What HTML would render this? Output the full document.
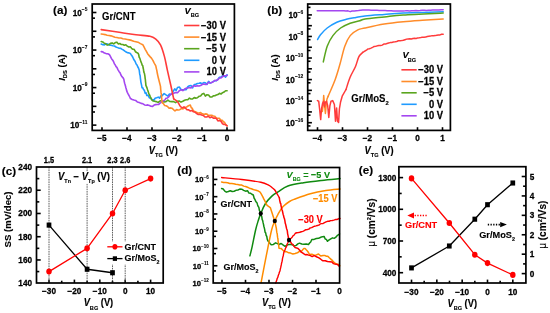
<!DOCTYPE html>
<html><head><meta charset="utf-8"><style>
html,body{margin:0;padding:0;background:#fff;}
svg{display:block;will-change:transform;}
text{font-family:"Liberation Sans",sans-serif;font-weight:bold;stroke-width:0.12px;}
.tk{stroke-width:0.28px;}
</style></head><body>
<svg width="550" height="313" viewBox="0 0 550 313">
<rect width="550" height="313" fill="#fff"/>
<line x1="92.2" y1="12.5" x2="96.4" y2="12.5" stroke="#000" stroke-width="1.6" />
<line x1="92.2" y1="18.15" x2="95" y2="18.15" stroke="#000" stroke-width="1.6" />
<line x1="92.2" y1="31.27" x2="96.4" y2="31.27" stroke="#000" stroke-width="1.6" />
<line x1="92.2" y1="36.92" x2="95" y2="36.92" stroke="#000" stroke-width="1.6" />
<line x1="92.2" y1="50.04" x2="96.4" y2="50.04" stroke="#000" stroke-width="1.6" />
<line x1="92.2" y1="55.69" x2="95" y2="55.69" stroke="#000" stroke-width="1.6" />
<line x1="92.2" y1="68.81" x2="96.4" y2="68.81" stroke="#000" stroke-width="1.6" />
<line x1="92.2" y1="74.46" x2="95" y2="74.46" stroke="#000" stroke-width="1.6" />
<line x1="92.2" y1="87.58" x2="96.4" y2="87.58" stroke="#000" stroke-width="1.6" />
<line x1="92.2" y1="93.23" x2="95" y2="93.23" stroke="#000" stroke-width="1.6" />
<line x1="92.2" y1="106.35" x2="96.4" y2="106.35" stroke="#000" stroke-width="1.6" />
<line x1="92.2" y1="112" x2="95" y2="112" stroke="#000" stroke-width="1.6" />
<line x1="92.2" y1="125.12" x2="96.4" y2="125.12" stroke="#000" stroke-width="1.6" />
<line x1="102" y1="130.4" x2="102" y2="127.2" stroke="#000" stroke-width="1.6" />
<text transform="translate(102,141.3) scale(1.0,1)" font-size="8.2" text-anchor="middle" fill="#000" stroke="#000" class="tk">−5</text>
<line x1="127" y1="130.4" x2="127" y2="127.2" stroke="#000" stroke-width="1.6" />
<text transform="translate(127,141.3) scale(1.0,1)" font-size="8.2" text-anchor="middle" fill="#000" stroke="#000" class="tk">−4</text>
<line x1="152" y1="130.4" x2="152" y2="127.2" stroke="#000" stroke-width="1.6" />
<text transform="translate(152,141.3) scale(1.0,1)" font-size="8.2" text-anchor="middle" fill="#000" stroke="#000" class="tk">−3</text>
<line x1="177" y1="130.4" x2="177" y2="127.2" stroke="#000" stroke-width="1.6" />
<text transform="translate(177,141.3) scale(1.0,1)" font-size="8.2" text-anchor="middle" fill="#000" stroke="#000" class="tk">−2</text>
<line x1="202" y1="130.4" x2="202" y2="127.2" stroke="#000" stroke-width="1.6" />
<text transform="translate(202,141.3) scale(1.0,1)" font-size="8.2" text-anchor="middle" fill="#000" stroke="#000" class="tk">−1</text>
<line x1="227" y1="130.4" x2="227" y2="127.2" stroke="#000" stroke-width="1.6" />
<text transform="translate(227,141.3) scale(1.0,1)" font-size="8.2" text-anchor="middle" fill="#000" stroke="#000" class="tk">0</text>
<text stroke="#000" transform="translate(87.4,15.6)" font-size="8.2" text-anchor="end" class="tk">10<tspan font-size="4.9" dy="-4.3" style="stroke-width:0.08px">−5</tspan></text>
<text stroke="#000" transform="translate(87.4,53.14)" font-size="8.2" text-anchor="end" class="tk">10<tspan font-size="4.9" dy="-4.3" style="stroke-width:0.08px">−7</tspan></text>
<text stroke="#000" transform="translate(87.4,90.68)" font-size="8.2" text-anchor="end" class="tk">10<tspan font-size="4.9" dy="-4.3" style="stroke-width:0.08px">−9</tspan></text>
<text stroke="#000" transform="translate(87.4,128.22)" font-size="8.2" text-anchor="end" class="tk">10<tspan font-size="4.9" dy="-4.3" style="stroke-width:0.08px">−11</tspan></text>
<path d="M101.2,44 L102.87,44.7 L104.53,44.84 L106.2,43.92 L107.87,44.1 L109.53,45.15 L111.2,45.18 L112.8,45.75 L114.4,45.97 L116,46.98 L117.6,47.63 L119.2,48.25 L120.8,48.39 L122.16,49.39 L123.51,50.02 L124.87,51.08 L126.23,52.08 L127.59,52.7 L128.94,52.88 L130.3,53.43 L131.14,54.66 L131.98,55.82 L132.81,57.25 L133.65,59.21 L134.49,60.47 L135.32,61.98 L136.16,64.03 L137,65.03 L137.73,66.74 L138.47,68.02 L139.2,70 L139.4,71.38 L139.6,73.17 L139.8,74.62 L140,75 L140.2,76.16 L140.4,78.32 L140.6,79.55 L140.88,82.08 L141.16,83.3 L141.44,84.58 L141.72,85.96 L142,87.62 L142.8,87.86 L143.6,89.71 L144.4,90.42 L145.2,93.18 L146,92.75 L146.8,95.54 L148.1,95.35 L149.4,97.87 L150.7,98.47 L152.1,99.56 L153.5,100.7 L155.1,98.3 L156.7,97.79 L158.3,97.13 L159.6,98.19 L160.9,95.85 L162.2,95.65 L164.1,93.54 L166,94.93 L167.9,96.07 L169.27,94.11 L170.64,94.67 L172.01,93.58 L173.39,90.98 L174.76,88.85 L176.13,90.54 L177.5,87.53 L179.28,87.08 L181.05,89.48 L182.82,89.82 L184.6,89.74 L186.2,89.68 L187.8,86.65 L189.4,85.78 L191,85.44 L192.6,87.89 L194.2,84.48 L195.8,84.31 L197.4,83.5 L199,83.27 L200.6,82.9 L202.2,83.63 L203.8,82.66 L205.38,82.72 L206.97,84.39 L208.55,81.37 L210.13,83.14 L211.72,82.44 L213.3,81.43 L214.84,80.72 L216.38,80.64 L217.92,79.28 L219.46,77.32 L221,76.92 L222.53,75.95 L224.05,75.81 L225.57,77.13 L227.1,74.8" fill="none" stroke="#1f9bff" stroke-width="1.6" stroke-linejoin="round" stroke-linecap="round" />
<path d="M101.2,41.5 L102.72,41.9 L104.25,43.28 L105.78,43.83 L107.3,45.08 L108.9,44.73 L110.5,43.39 L112.1,42.92 L113.7,43.94 L115.3,42.57 L116.9,42.15 L118.39,43.91 L119.88,43.48 L121.37,44.57 L122.86,44.43 L124.34,45.17 L125.83,44.81 L127.32,46.1 L128.81,46.96 L130.3,46.84 L131.58,48.33 L132.87,49.32 L134.15,49.41 L135.43,51.71 L136.72,52.54 L138,53.16 L138.6,54.27 L139.2,57.25 L139.8,58.14 L140.4,60.12 L141,61.96 L141.6,63.24 L142.2,65.15 L142.8,65.82 L143.1,68.01 L143.4,68.91 L143.7,71.24 L144,72.64 L144.3,72.82 L144.6,74.38 L144.9,76.02 L145.2,78.79 L145.38,79.72 L145.55,81.87 L145.72,83.14 L145.9,85.31 L146.48,86.65 L147.06,88.13 L147.64,90.06 L148.22,91.6 L148.8,93.69 L149.56,94.85 L150.32,96.81 L151.08,98.23 L151.84,99.99 L152.6,100.7 L154.5,101.18 L156.4,101.63 L158.3,102.39 L160.23,100.82 L162.15,101.53 L164.07,101.9 L166,101.72 L167.93,100.14 L169.85,101.53 L171.77,101.67 L173.7,101.61 L175.52,102.62 L177.33,101.37 L179.15,101.01 L180.97,102.11 L182.78,101.19 L184.6,100.2 L186.2,99.74 L187.8,99.72 L189.4,98.13 L191,99.04 L192.6,98.87 L194.2,97.62 L195.8,98.12 L197.4,97.77 L199,96.29 L200.6,96.05 L202.2,94.09 L203.8,93.39 L205.38,96.08 L206.97,94.73 L208.55,94.93 L210.13,97.02 L211.72,97.04 L213.3,95.86 L214.84,95.79 L216.38,95.04 L217.92,94.55 L219.46,93.33 L221,94.06 L222.53,92.69 L224.05,92.09 L225.57,90.74 L227.1,90.7" fill="none" stroke="#5aa51e" stroke-width="1.6" stroke-linejoin="round" stroke-linecap="round" />
<path d="M101.2,51.6 L102.82,51.85 L104.44,53.07 L106.06,53.58 L107.68,53.7 L109.3,54.5 L110.14,55.94 L110.99,57.61 L111.83,59.23 L112.68,60.09 L113.52,61.52 L114.37,63.74 L115.21,64.86 L116.06,66.65 L116.9,67.45 L117.93,69.52 L118.97,71.43 L120,72.66 L120.95,74.98 L121.9,76.61 L122.85,77.5 L123.8,79.17 L124.21,81.28 L124.63,83.28 L125.04,84.42 L125.46,85.92 L125.87,87.74 L126.29,89.03 L126.7,90.85 L127.46,92.58 L128.22,94.18 L128.98,95.48 L129.74,97.02 L130.5,98.55 L132.2,99.46 L133.9,100.01 L135.6,100.47 L137.3,101.9 L139.2,102.48 L141.1,103.39 L143,103.82 L144.6,104.93 L146.2,105.19 L147.8,104.91 L149.4,105.48 L151,106.22 L152.6,106.4 L154.14,105.04 L155.68,104.62 L157.22,104.49 L158.76,104.37 L160.3,102.92 L161.73,101.7 L163.15,100.72 L164.57,100.39 L166,98.24 L167.45,97.99 L168.9,96.66 L170.35,94.62 L171.8,94.06 L173.7,93.25 L175.6,92.53 L177.5,92.79 L179.28,90.65 L181.05,89.83 L182.82,90.6 L184.6,89.04 L186.2,88.23 L187.8,87.96 L189.4,87.53 L191,87.99 L192.6,86.32 L194.2,85.85 L195.8,86.12 L197.4,85.74 L199,86.08 L200.6,85.58 L202.2,84.49 L203.8,83.93 L205.38,84.45 L206.97,84.22 L208.55,82.2 L210.13,82.84 L211.72,82.57 L213.3,81.74 L214.84,80.29 L216.38,80.45 L217.92,79.59 L219.46,77.97 L221,77.93 L222.53,76.68 L224.05,75.82 L225.57,75.71 L227.1,75.4" fill="none" stroke="#a447f0" stroke-width="1.6" stroke-linejoin="round" stroke-linecap="round" />
<path d="M101.2,34 L103.16,34.26 L105.12,34.6 L107.08,35.2 L109.04,35.47 L111,35.84 L112.96,36.46 L114.92,37.19 L116.88,37.54 L118.84,37.94 L120.8,38.03 L122.95,38.7 L125.1,39.02 L127.25,39.43 L129.4,39.86 L131.55,40.4 L133.7,41.31 L135.85,41.72 L138,42.18 L140.4,43.63 L142.8,44.72 L144,46.94 L145.2,49.28 L146.4,51.49 L147.6,53.71 L150,56.63 L151.45,58.1 L152.9,60.36 L153.87,62.3 L154.83,64.1 L155.8,65.81 L156.3,68.32 L156.8,70.43 L157.3,73.28 L157.8,75.58 L158.3,77.7 L160.49,86.4 L160.68,89.08 L160.87,90.73 L161.06,92.92 L161.25,93.58 L161.44,95.29 L161.63,97.78 L161.82,99.39 L162.01,100.55 L162.2,102.89 L163.47,103.7 L164.73,105.58 L166,105.79 L167.54,106.54 L169.08,108.2 L170.62,107.91 L172.16,108.34 L173.7,109.79 L175,110.81 L176.6,109.66 L178.2,109.92 L179.8,109.71 L181.4,108.53 L183,108.93 L184.6,107.7 L186.5,107.11 L188.4,105.77 L190.3,105.03 L191.28,107.69 L192.25,108.2 L193.22,110.56 L194.2,111.1 L195.8,111.86 L197.4,112.76 L199,112.95 L200.6,112.51 L202.2,113.76 L203.8,114.31 L205.38,113.91 L206.97,114.08 L208.55,115.65 L210.13,115.39 L211.72,115.19 L213.3,115.92 L214.84,116.31 L216.38,118 L217.92,118.28 L219.46,118.4 L221,120.31 L222.22,120.3 L223.44,121.77 L224.66,122.52 L225.88,124.82 L227.1,125.6" fill="none" stroke="#ff8c2a" stroke-width="1.6" stroke-linejoin="round" stroke-linecap="round" />
<path d="M101.2,29.6 C104.47,30.08 115,31.63 120.8,32.5 C126.6,33.37 131.13,34.17 136,34.8 C140.87,35.43 146.7,35.57 150,36.3 C153.3,37.03 154.05,37.77 155.8,39.2 C157.55,40.63 159.07,42.03 160.5,44.9 C161.93,47.77 163.27,52.25 164.4,56.4 C165.53,60.55 166.23,64.98 167.3,69.8 C168.37,74.62 169.73,80.47 170.8,85.3 C171.87,90.13 173.22,96.55 173.7,98.8" fill="none" stroke="#ff3b3b" stroke-width="1.6" stroke-linejoin="round" stroke-linecap="round" />
<path d="M173.7,98.8 L175.6,100.22 L177.5,101.64 L178.6,103.46 L179.7,105.46 L180.8,106.83 L182.38,107.81 L183.97,106.85 L185.55,108.29 L187.13,109.8 L188.72,109.92 L190.3,111.02 L191.9,110.4 L193.5,111.84 L195.1,112.24 L196.7,113.58 L198.3,114.43 L199.9,114.22 L201.58,114.94 L203.25,115.4 L204.93,116.9 L206.6,116.98 L208.28,116.24 L209.95,117.73 L211.62,116.9 L213.3,118.11 L214.84,118.01 L216.38,118.56 L217.92,120.91 L219.46,120.5 L221,121.29 L222.53,123.72 L224.05,124.57 L225.57,124.57 L227.1,126" fill="none" stroke="#ff3b3b" stroke-width="1.6" stroke-linejoin="round" stroke-linecap="round" />
<rect x="92.2" y="4" width="142.2" height="126.4" fill="none" stroke="#000" stroke-width="1.7"/>
<text x="53" y="13.8" font-size="11.7" text-anchor="start" fill="#000" stroke="#000"  class="ns">(a)</text>
<text transform="translate(102,20.4) scale(1,1.08)" font-size="9.6" text-anchor="start" fill="#000" stroke="#000"  >Gr/CNT</text>
<text transform="translate(184.6,14.3) scale(1,1.08)" font-size="9.2" text-anchor="start" fill="#000" stroke="#000" font-style="italic" >V</text>
<text transform="translate(190.7,16.8) scale(1,1.08)" font-size="5.6" text-anchor="start" fill="#000" stroke="#000"  >BG</text>
<line x1="184.1" y1="25.5" x2="199.4" y2="25.5" stroke="#ff3b3b" stroke-width="1.6" />
<text transform="translate(225.9,29) scale(1,1.08)" font-size="9.4" text-anchor="end" fill="#000" stroke="#000" style="stroke-width:0.25px" >−30 V</text>
<line x1="184.1" y1="37.1" x2="199.4" y2="37.1" stroke="#ff8c2a" stroke-width="1.6" />
<text transform="translate(225.9,40.6) scale(1,1.08)" font-size="9.4" text-anchor="end" fill="#000" stroke="#000" style="stroke-width:0.25px" >−15 V</text>
<line x1="184.1" y1="48.7" x2="199.4" y2="48.7" stroke="#5aa51e" stroke-width="1.6" />
<text transform="translate(225.9,52.2) scale(1,1.08)" font-size="9.4" text-anchor="end" fill="#000" stroke="#000" style="stroke-width:0.25px" >−5 V</text>
<line x1="184.1" y1="60.3" x2="199.4" y2="60.3" stroke="#1f9bff" stroke-width="1.6" />
<text transform="translate(225.9,63.8) scale(1,1.08)" font-size="9.4" text-anchor="end" fill="#000" stroke="#000" style="stroke-width:0.25px" >0 V</text>
<line x1="184.1" y1="71.9" x2="199.4" y2="71.9" stroke="#a447f0" stroke-width="1.6" />
<text transform="translate(225.9,75.4) scale(1,1.08)" font-size="9.4" text-anchor="end" fill="#000" stroke="#000" style="stroke-width:0.25px" >10 V</text>
<text stroke="#000" transform="translate(163.3,153.8) scale(1,1.08)" font-size="9.3" text-anchor="middle"><tspan font-style="italic">V</tspan><tspan font-size="5.6" dy="3">TG</tspan><tspan dy="-3"> (V)</tspan></text>
<text stroke="#000" transform="translate(65.3,67.5) rotate(-90)" x="0" y="0" font-size="9.5" text-anchor="middle"><tspan font-style="italic">I</tspan><tspan font-size="5.8" dy="2">DS</tspan><tspan dy="-2"> (A)</tspan></text>
<line x1="307.7" y1="7.36" x2="310.5" y2="7.36" stroke="#000" stroke-width="1.6" />
<line x1="307.7" y1="14.9" x2="311.9" y2="14.9" stroke="#000" stroke-width="1.6" />
<line x1="307.7" y1="18.14" x2="310.5" y2="18.14" stroke="#000" stroke-width="1.6" />
<line x1="307.7" y1="25.68" x2="311.9" y2="25.68" stroke="#000" stroke-width="1.6" />
<line x1="307.7" y1="28.92" x2="310.5" y2="28.92" stroke="#000" stroke-width="1.6" />
<line x1="307.7" y1="36.46" x2="311.9" y2="36.46" stroke="#000" stroke-width="1.6" />
<line x1="307.7" y1="39.7" x2="310.5" y2="39.7" stroke="#000" stroke-width="1.6" />
<line x1="307.7" y1="47.24" x2="311.9" y2="47.24" stroke="#000" stroke-width="1.6" />
<line x1="307.7" y1="50.48" x2="310.5" y2="50.48" stroke="#000" stroke-width="1.6" />
<line x1="307.7" y1="58.02" x2="311.9" y2="58.02" stroke="#000" stroke-width="1.6" />
<line x1="307.7" y1="61.26" x2="310.5" y2="61.26" stroke="#000" stroke-width="1.6" />
<line x1="307.7" y1="68.8" x2="311.9" y2="68.8" stroke="#000" stroke-width="1.6" />
<line x1="307.7" y1="72.04" x2="310.5" y2="72.04" stroke="#000" stroke-width="1.6" />
<line x1="307.7" y1="79.58" x2="311.9" y2="79.58" stroke="#000" stroke-width="1.6" />
<line x1="307.7" y1="82.82" x2="310.5" y2="82.82" stroke="#000" stroke-width="1.6" />
<line x1="307.7" y1="90.36" x2="311.9" y2="90.36" stroke="#000" stroke-width="1.6" />
<line x1="307.7" y1="93.6" x2="310.5" y2="93.6" stroke="#000" stroke-width="1.6" />
<line x1="307.7" y1="101.14" x2="311.9" y2="101.14" stroke="#000" stroke-width="1.6" />
<line x1="307.7" y1="104.38" x2="310.5" y2="104.38" stroke="#000" stroke-width="1.6" />
<line x1="307.7" y1="111.92" x2="311.9" y2="111.92" stroke="#000" stroke-width="1.6" />
<line x1="307.7" y1="115.16" x2="310.5" y2="115.16" stroke="#000" stroke-width="1.6" />
<line x1="307.7" y1="122.7" x2="311.9" y2="122.7" stroke="#000" stroke-width="1.6" />
<line x1="307.7" y1="125.94" x2="310.5" y2="125.94" stroke="#000" stroke-width="1.6" />
<line x1="317.5" y1="130.4" x2="317.5" y2="127.2" stroke="#000" stroke-width="1.6" />
<text transform="translate(317.5,141.2) scale(1.0,1)" font-size="8.2" text-anchor="middle" fill="#000" stroke="#000" class="tk">−4</text>
<line x1="342.5" y1="130.4" x2="342.5" y2="127.2" stroke="#000" stroke-width="1.6" />
<text transform="translate(342.5,141.2) scale(1.0,1)" font-size="8.2" text-anchor="middle" fill="#000" stroke="#000" class="tk">−3</text>
<line x1="367.5" y1="130.4" x2="367.5" y2="127.2" stroke="#000" stroke-width="1.6" />
<text transform="translate(367.5,141.2) scale(1.0,1)" font-size="8.2" text-anchor="middle" fill="#000" stroke="#000" class="tk">−2</text>
<line x1="392.5" y1="130.4" x2="392.5" y2="127.2" stroke="#000" stroke-width="1.6" />
<text transform="translate(392.5,141.2) scale(1.0,1)" font-size="8.2" text-anchor="middle" fill="#000" stroke="#000" class="tk">−1</text>
<line x1="417.5" y1="130.4" x2="417.5" y2="127.2" stroke="#000" stroke-width="1.6" />
<text transform="translate(417.5,141.2) scale(1.0,1)" font-size="8.2" text-anchor="middle" fill="#000" stroke="#000" class="tk">0</text>
<line x1="442.5" y1="130.4" x2="442.5" y2="127.2" stroke="#000" stroke-width="1.6" />
<text transform="translate(442.5,141.2) scale(1.0,1)" font-size="8.2" text-anchor="middle" fill="#000" stroke="#000" class="tk">1</text>
<text stroke="#000" transform="translate(303.2,18)" font-size="8.2" text-anchor="end" class="tk">10<tspan font-size="4.9" dy="-4.3" style="stroke-width:0.08px">−6</tspan></text>
<text stroke="#000" transform="translate(303.2,39.56)" font-size="8.2" text-anchor="end" class="tk">10<tspan font-size="4.9" dy="-4.3" style="stroke-width:0.08px">−8</tspan></text>
<text stroke="#000" transform="translate(303.2,61.12)" font-size="8.2" text-anchor="end" class="tk">10<tspan font-size="4.9" dy="-4.3" style="stroke-width:0.08px">−10</tspan></text>
<text stroke="#000" transform="translate(303.2,82.68)" font-size="8.2" text-anchor="end" class="tk">10<tspan font-size="4.9" dy="-4.3" style="stroke-width:0.08px">−12</tspan></text>
<text stroke="#000" transform="translate(303.2,104.24)" font-size="8.2" text-anchor="end" class="tk">10<tspan font-size="4.9" dy="-4.3" style="stroke-width:0.08px">−14</tspan></text>
<text stroke="#000" transform="translate(303.2,125.8)" font-size="8.2" text-anchor="end" class="tk">10<tspan font-size="4.9" dy="-4.3" style="stroke-width:0.08px">−16</tspan></text>
<path d="M317.2,10.7 L319.25,10.69 L321.31,10.73 L323.36,10.85 L325.41,10.72 L327.47,10.74 L329.52,10.77 L331.57,10.65 L333.63,10.76 L335.68,10.8 L337.73,10.85 L339.79,10.65 L341.84,10.72 L343.89,10.66 L345.95,10.89 L348,10.86 L350.2,11.66 L352,11.04 L354.17,10.91 L356.33,10.68 L358.5,10.53 L360.67,10.26 L362.83,10.09 L365,10.11 L367.02,10.02 L369.03,10.1 L371.05,10.16 L373.06,10.15 L375.08,10.33 L377.09,10.37 L379.11,10.53 L381.13,10.48 L383.14,10.57 L385.16,10.57 L387.17,10.67 L389.19,10.66 L391.21,10.65 L393.22,10.91 L395.24,10.96 L397.25,10.96 L399.27,10.97 L401.28,10.9 L403.3,10.92 L405.4,10.87 L407.5,10.74 L409.6,10.88 L411.7,10.71 L413.8,10.78 L415.9,10.57 L418,10.68 L420.1,10.58 L422.2,10.26 L424.3,10.26 L426.4,10.4 L428.5,10.2 L430.6,10.29 L432.7,10.05 L434.8,9.89 L436.9,9.99 L439,9.97 L441.1,9.75 L443.2,9.75" fill="none" stroke="#a447f0" stroke-width="1.5" stroke-linejoin="round" stroke-linecap="round" />
<path d="M317.6,39.5 C318.08,38.7 318.9,36.62 320.5,34.7 C322.1,32.78 324.48,30.08 327.2,28 C329.92,25.92 333.62,23.65 336.8,22.2 C339.98,20.75 343.12,20.1 346.3,19.3 C349.48,18.5 352.78,17.97 355.9,17.4 C359.02,16.83 360.28,16.4 365,15.9 C369.72,15.4 377.82,14.87 384.2,14.4 C390.58,13.93 393.47,13.55 403.3,13.1 C413.13,12.65 436.55,11.93 443.2,11.7" fill="none" stroke="#1f9bff" stroke-width="1.5" stroke-linejoin="round" stroke-linecap="round" />
<path d="M323.3,61.9 C323.95,59.28 325.6,50.58 327.2,46.2 C328.8,41.82 330.67,38.63 332.9,35.6 C335.13,32.57 337.72,30.07 340.6,28 C343.48,25.93 347,24.42 350.2,23.2 C353.4,21.98 357.33,21.4 359.8,20.7 C362.27,20 360.93,19.63 365,19 C369.07,18.37 377.82,17.58 384.2,16.9 C390.58,16.22 393.47,15.55 403.3,14.9 C413.13,14.25 436.55,13.32 443.2,13" fill="none" stroke="#5aa51e" stroke-width="1.5" stroke-linejoin="round" stroke-linecap="round" />
<path d="M322.4,111.5 L323.2,104 L323.7,95.5 L324.3,102.3 L325.4,113.5 L326.3,103.4 L327,99 L328.1,96.4" fill="none" stroke="#ff8c2a" stroke-width="1.5" stroke-linejoin="round" stroke-linecap="round" />
<path d="M328.1,96.4 C329.3,93.53 333.32,84.6 335.3,79.2 C337.28,73.8 338.42,69.5 340,64 C341.58,58.5 343.1,50.93 344.8,46.2 C346.5,41.47 348.03,38.32 350.2,35.6 C352.37,32.88 355.33,31.17 357.8,29.9 C360.27,28.63 360.6,28.97 365,28 C369.4,27.03 377.82,25.13 384.2,24.1 C390.58,23.07 396.92,22.43 403.3,21.8 C409.68,21.17 415.85,20.77 422.5,20.3 C429.15,19.83 439.75,19.22 443.2,19" fill="none" stroke="#ff8c2a" stroke-width="1.5" stroke-linejoin="round" stroke-linecap="round" />
<path d="M317.4,100.6 L318.7,101.2 L319.6,109 L320.7,119.6 L321.5,109 L322.6,103.4 L323.7,101.2 L324.5,106.8 L325.4,102.3 L326.5,101.2 L327.7,105.7 L328.8,117.4 L329.9,105.7 L331,101.2 L332.7,100.6 L334.4,104.5 L335.5,121.3 L336.6,107.9 L337.5,121.3 L338.6,122.4 L339.4,109 L340.5,102.3 L342.2,96.2 L346,89.5" fill="none" stroke="#ff3b3b" stroke-width="1.5" stroke-linejoin="round" stroke-linecap="round" />
<path d="M346,89.5 C346.67,87.5 348.42,81.33 350,77.5 C351.58,73.67 354.03,69.93 355.5,66.5 C356.97,63.07 357.6,59.25 358.8,56.9 C360,54.55 362.05,53.15 362.7,52.4" fill="none" stroke="#ff3b3b" stroke-width="1.5" stroke-linejoin="round" stroke-linecap="round" />
<path d="M362.7,52.4 L363.98,51.64 L365.25,50.76 L366.52,50.05 L367.8,49.02 L369.4,48.74 L371,48.09 L372.6,47.34 L374.2,46.4 L375.8,46.29 L377.4,45.85 L379,45.47 L380.6,45.57 L382.2,45.12 L383.8,44.08 L385.4,44.09 L387,43.46 L388.6,43 L390.2,42.62 L391.8,42.53 L393.4,42.07 L395.06,41.85 L396.71,41.48 L398.37,40.81 L400.03,40.83 L401.69,40.6 L403.34,40.24 L405,39.67 L406.59,39.13 L408.18,38.9 L409.77,38.78 L411.36,39.06 L412.95,38.48 L414.55,38.32 L416.14,38.44 L417.73,37.89 L419.32,37.83 L420.91,37.56 L422.5,37.14 L424.09,37.2 L425.68,37.11 L427.28,36.46 L428.87,36.25 L430.46,36.12 L432.05,35.65 L433.65,35.67 L435.24,35.62 L436.83,35.28 L438.42,34.96 L440.02,34.91 L441.61,34.24 L443.2,34.2" fill="none" stroke="#ff3b3b" stroke-width="1.5" stroke-linejoin="round" stroke-linecap="round" />
<rect x="307.7" y="4" width="142.7" height="126.4" fill="none" stroke="#000" stroke-width="1.7"/>
<text x="267.3" y="14" font-size="11.7" text-anchor="start" fill="#000" stroke="#000"  class="ns">(b)</text>
<text stroke="#000" transform="translate(351.3,102.3) scale(1,1.08)" font-size="9.6">Gr/MoS<tspan font-size="5.8" dy="2.8">2</tspan></text>
<text transform="translate(402.5,57.9) scale(1,1.08)" font-size="9.2" text-anchor="start" fill="#000" stroke="#000" font-style="italic" >V</text>
<text transform="translate(407.7,61.6) scale(1,1.08)" font-size="5.6" text-anchor="start" fill="#000" stroke="#000"  >BG</text>
<line x1="401.4" y1="69.8" x2="416.7" y2="69.8" stroke="#ff3b3b" stroke-width="1.6" />
<text transform="translate(443.1,73.3) scale(1,1.08)" font-size="9.4" text-anchor="end" fill="#000" stroke="#000" style="stroke-width:0.25px" >−30 V</text>
<line x1="401.4" y1="81.5" x2="416.7" y2="81.5" stroke="#ff8c2a" stroke-width="1.6" />
<text transform="translate(443.1,85) scale(1,1.08)" font-size="9.4" text-anchor="end" fill="#000" stroke="#000" style="stroke-width:0.25px" >−15 V</text>
<line x1="401.4" y1="92.8" x2="416.7" y2="92.8" stroke="#5aa51e" stroke-width="1.6" />
<text transform="translate(443.1,96.3) scale(1,1.08)" font-size="9.4" text-anchor="end" fill="#000" stroke="#000" style="stroke-width:0.25px" >−5 V</text>
<line x1="401.4" y1="104.3" x2="416.7" y2="104.3" stroke="#1f9bff" stroke-width="1.6" />
<text transform="translate(443.1,107.8) scale(1,1.08)" font-size="9.4" text-anchor="end" fill="#000" stroke="#000" style="stroke-width:0.25px" >0 V</text>
<line x1="401.4" y1="115.8" x2="416.7" y2="115.8" stroke="#a447f0" stroke-width="1.6" />
<text transform="translate(443.1,119.3) scale(1,1.08)" font-size="9.4" text-anchor="end" fill="#000" stroke="#000" style="stroke-width:0.25px" >10 V</text>
<text stroke="#000" transform="translate(379.05,153.8) scale(1,1.08)" font-size="9.3" text-anchor="middle"><tspan font-style="italic">V</tspan><tspan font-size="5.6" dy="3">TG</tspan><tspan dy="-3"> (V)</tspan></text>
<text stroke="#000" transform="translate(277.9,67.5) rotate(-90)" x="0" y="0" font-size="9.5" text-anchor="middle"><tspan font-style="italic">I</tspan><tspan font-size="5.8" dy="2">DS</tspan><tspan dy="-2"> (A)</tspan></text>
<text transform="translate(32,286.2) scale(1.0,1)" font-size="8.2" text-anchor="end" fill="#000" stroke="#000" class="tk">140</text>
<line x1="36.5" y1="271.58" x2="39.3" y2="271.58" stroke="#000" stroke-width="1.6" />
<line x1="36.5" y1="259.96" x2="40.7" y2="259.96" stroke="#000" stroke-width="1.6" />
<text transform="translate(32,262.96) scale(1.0,1)" font-size="8.2" text-anchor="end" fill="#000" stroke="#000" class="tk">160</text>
<line x1="36.5" y1="248.34" x2="39.3" y2="248.34" stroke="#000" stroke-width="1.6" />
<line x1="36.5" y1="236.72" x2="40.7" y2="236.72" stroke="#000" stroke-width="1.6" />
<text transform="translate(32,239.72) scale(1.0,1)" font-size="8.2" text-anchor="end" fill="#000" stroke="#000" class="tk">180</text>
<line x1="36.5" y1="225.1" x2="39.3" y2="225.1" stroke="#000" stroke-width="1.6" />
<line x1="36.5" y1="213.48" x2="40.7" y2="213.48" stroke="#000" stroke-width="1.6" />
<text transform="translate(32,216.48) scale(1.0,1)" font-size="8.2" text-anchor="end" fill="#000" stroke="#000" class="tk">200</text>
<line x1="36.5" y1="201.86" x2="39.3" y2="201.86" stroke="#000" stroke-width="1.6" />
<line x1="36.5" y1="190.24" x2="40.7" y2="190.24" stroke="#000" stroke-width="1.6" />
<text transform="translate(32,193.24) scale(1.0,1)" font-size="8.2" text-anchor="end" fill="#000" stroke="#000" class="tk">220</text>
<line x1="36.5" y1="178.62" x2="39.3" y2="178.62" stroke="#000" stroke-width="1.6" />
<text transform="translate(32,170) scale(1.0,1)" font-size="8.2" text-anchor="end" fill="#000" stroke="#000" class="tk">240</text>
<line x1="49" y1="283" x2="49" y2="279.6" stroke="#000" stroke-width="1.6" />
<text transform="translate(49,294.1) scale(1.0,1)" font-size="8.2" text-anchor="middle" fill="#000" stroke="#000" class="tk">−30</text>
<line x1="61.7" y1="283" x2="61.7" y2="280.7" stroke="#000" stroke-width="1.6" />
<line x1="74.4" y1="283" x2="74.4" y2="279.6" stroke="#000" stroke-width="1.6" />
<text transform="translate(74.4,294.1) scale(1.0,1)" font-size="8.2" text-anchor="middle" fill="#000" stroke="#000" class="tk">−20</text>
<line x1="87.1" y1="283" x2="87.1" y2="280.7" stroke="#000" stroke-width="1.6" />
<line x1="99.8" y1="283" x2="99.8" y2="279.6" stroke="#000" stroke-width="1.6" />
<text transform="translate(99.8,294.1) scale(1.0,1)" font-size="8.2" text-anchor="middle" fill="#000" stroke="#000" class="tk">−10</text>
<line x1="112.5" y1="283" x2="112.5" y2="280.7" stroke="#000" stroke-width="1.6" />
<line x1="125.2" y1="283" x2="125.2" y2="279.6" stroke="#000" stroke-width="1.6" />
<text transform="translate(125.2,294.1) scale(1.0,1)" font-size="8.2" text-anchor="middle" fill="#000" stroke="#000" class="tk">0</text>
<line x1="137.9" y1="283" x2="137.9" y2="280.7" stroke="#000" stroke-width="1.6" />
<line x1="150.6" y1="283" x2="150.6" y2="279.6" stroke="#000" stroke-width="1.6" />
<text transform="translate(150.6,294.1) scale(1.0,1)" font-size="8.2" text-anchor="middle" fill="#000" stroke="#000" class="tk">10</text>
<line x1="49" y1="167" x2="49" y2="283" stroke="#505050" stroke-width="0.9" stroke-dasharray="1.6 0.8"/>
<text stroke="#000" transform="translate(49,162.8) scale(0.9,1)" font-size="8.2" text-anchor="middle" class="tk">1.5</text>
<line x1="87.1" y1="167" x2="87.1" y2="283" stroke="#505050" stroke-width="0.9" stroke-dasharray="1.6 0.8"/>
<text stroke="#000" transform="translate(87.1,162.8) scale(0.9,1)" font-size="8.2" text-anchor="middle" class="tk">2.1</text>
<line x1="112.5" y1="167" x2="112.5" y2="283" stroke="#505050" stroke-width="0.9" stroke-dasharray="1.6 0.8"/>
<text stroke="#000" transform="translate(112.5,162.8) scale(0.9,1)" font-size="8.2" text-anchor="middle" class="tk">2.3</text>
<line x1="125.2" y1="167" x2="125.2" y2="283" stroke="#505050" stroke-width="0.9" stroke-dasharray="1.6 0.8"/>
<text stroke="#000" transform="translate(125.2,162.8) scale(0.9,1)" font-size="8.2" text-anchor="middle" class="tk">2.6</text>
<rect x="57" y="171.5" width="52" height="12" fill="#fff"/>
<text stroke="#000" transform="translate(58.0,179.8) scale(1,1.08)" font-size="9.5"><tspan font-style="italic">V</tspan><tspan font-size="5.4" dy="3">Tn</tspan><tspan dy="-3"> − </tspan><tspan font-style="italic">V</tspan><tspan font-size="5.4" dy="3">Tp</tspan><tspan dy="-3"> (V)</tspan></text>
<path d="M49,225.1 L87.1,269.26 L112.5,272.74" fill="none" stroke="#000" stroke-width="1.3" stroke-linejoin="round" stroke-linecap="round" />
<path d="M49,271.58 L87.1,248.34 L112.5,213.48 L125.2,190.24 L150.6,178.62" fill="none" stroke="#ff0000" stroke-width="1.3" stroke-linejoin="round" stroke-linecap="round" />
<rect x="46.65" y="222.55" width="4.7" height="5.1" fill="#000"/>
<rect x="84.75" y="266.71" width="4.7" height="5.1" fill="#000"/>
<rect x="110.15" y="270.19" width="4.7" height="5.1" fill="#000"/>
<ellipse cx="49" cy="271.58" rx="2.75" ry="3.05" fill="#ff0000"/>
<ellipse cx="87.1" cy="248.34" rx="2.75" ry="3.05" fill="#ff0000"/>
<ellipse cx="112.5" cy="213.48" rx="2.75" ry="3.05" fill="#ff0000"/>
<ellipse cx="125.2" cy="190.24" rx="2.75" ry="3.05" fill="#ff0000"/>
<ellipse cx="150.6" cy="178.62" rx="2.75" ry="3.05" fill="#ff0000"/>
<rect x="106" y="241.5" width="56" height="23" fill="#fff"/>
<line x1="107.3" y1="246.8" x2="122.5" y2="246.8" stroke="#ff0000" stroke-width="1.3" />
<ellipse cx="114.9" cy="246.8" rx="2.5" ry="2.8" fill="#ff0000"/>
<text transform="translate(124.6,249.6) scale(1,1.08)" font-size="9.0" text-anchor="start" fill="#000" stroke="#000"  >Gr/CNT</text>
<line x1="107.3" y1="258.6" x2="122.5" y2="258.6" stroke="#000" stroke-width="1.3" />
<rect x="112.8" y="256.3" width="4.2" height="4.6" fill="#000"/>
<text stroke="#000" transform="translate(124.6,261.3) scale(1,1.08)" font-size="9.0">Gr/MoS<tspan font-size="5.3" dy="2.8">2</tspan></text>
<rect x="36.5" y="167" width="126.7" height="116" fill="none" stroke="#000" stroke-width="1.7"/>
<text x="1.8" y="174.7" font-size="11.7" text-anchor="start" fill="#000" stroke="#000"  class="ns">(c)</text>
<text stroke="#000" transform="translate(98.4,306.3) scale(1,1.08)" font-size="9.3" text-anchor="middle"><tspan font-style="italic">V</tspan><tspan font-size="5.6" dy="3">BG</tspan><tspan dy="-3"> (V)</tspan></text>
<text x="0" y="0" font-size="9.6" text-anchor="middle" fill="#000" stroke="#000"  transform="translate(11.3,219.5) rotate(-90)">SS (mV/dec)</text>
<line x1="213.2" y1="179.4" x2="217.4" y2="179.4" stroke="#000" stroke-width="1.6" />
<line x1="213.2" y1="184.6" x2="216" y2="184.6" stroke="#000" stroke-width="1.6" />
<text stroke="#000" x="208.7" y="182.4" font-size="7.6" text-anchor="end" class="tk">10<tspan font-size="4.5" dy="-3.6" style="stroke-width:0.08px">−6</tspan></text>
<line x1="213.2" y1="196.67" x2="217.4" y2="196.67" stroke="#000" stroke-width="1.6" />
<line x1="213.2" y1="201.87" x2="216" y2="201.87" stroke="#000" stroke-width="1.6" />
<text stroke="#000" x="208.7" y="199.67" font-size="7.6" text-anchor="end" class="tk">10<tspan font-size="4.5" dy="-3.6" style="stroke-width:0.08px">−7</tspan></text>
<line x1="213.2" y1="213.94" x2="217.4" y2="213.94" stroke="#000" stroke-width="1.6" />
<line x1="213.2" y1="219.14" x2="216" y2="219.14" stroke="#000" stroke-width="1.6" />
<text stroke="#000" x="208.7" y="216.94" font-size="7.6" text-anchor="end" class="tk">10<tspan font-size="4.5" dy="-3.6" style="stroke-width:0.08px">−8</tspan></text>
<line x1="213.2" y1="231.21" x2="217.4" y2="231.21" stroke="#000" stroke-width="1.6" />
<line x1="213.2" y1="236.41" x2="216" y2="236.41" stroke="#000" stroke-width="1.6" />
<text stroke="#000" x="208.7" y="234.21" font-size="7.6" text-anchor="end" class="tk">10<tspan font-size="4.5" dy="-3.6" style="stroke-width:0.08px">−9</tspan></text>
<line x1="213.2" y1="248.48" x2="217.4" y2="248.48" stroke="#000" stroke-width="1.6" />
<line x1="213.2" y1="253.68" x2="216" y2="253.68" stroke="#000" stroke-width="1.6" />
<text stroke="#000" x="208.7" y="251.48" font-size="7.6" text-anchor="end" class="tk">10<tspan font-size="4.5" dy="-3.6" style="stroke-width:0.08px">−10</tspan></text>
<line x1="213.2" y1="265.75" x2="217.4" y2="265.75" stroke="#000" stroke-width="1.6" />
<line x1="213.2" y1="270.95" x2="216" y2="270.95" stroke="#000" stroke-width="1.6" />
<text stroke="#000" x="208.7" y="268.75" font-size="7.6" text-anchor="end" class="tk">10<tspan font-size="4.5" dy="-3.6" style="stroke-width:0.08px">−11</tspan></text>
<text stroke="#000" x="208.7" y="286.02" font-size="7.6" text-anchor="end" class="tk">10<tspan font-size="4.5" dy="-3.6" style="stroke-width:0.08px">−12</tspan></text>
<line x1="222" y1="283" x2="222" y2="279.8" stroke="#000" stroke-width="1.6" />
<text transform="translate(222,294.1) scale(1.0,1)" font-size="8.2" text-anchor="middle" fill="#000" stroke="#000" class="tk">−5</text>
<line x1="245.5" y1="283" x2="245.5" y2="279.8" stroke="#000" stroke-width="1.6" />
<text transform="translate(245.5,294.1) scale(1.0,1)" font-size="8.2" text-anchor="middle" fill="#000" stroke="#000" class="tk">−4</text>
<line x1="269" y1="283" x2="269" y2="279.8" stroke="#000" stroke-width="1.6" />
<text transform="translate(269,294.1) scale(1.0,1)" font-size="8.2" text-anchor="middle" fill="#000" stroke="#000" class="tk">−3</text>
<line x1="292.5" y1="283" x2="292.5" y2="279.8" stroke="#000" stroke-width="1.6" />
<text transform="translate(292.5,294.1) scale(1.0,1)" font-size="8.2" text-anchor="middle" fill="#000" stroke="#000" class="tk">−2</text>
<line x1="316" y1="283" x2="316" y2="279.8" stroke="#000" stroke-width="1.6" />
<text transform="translate(316,294.1) scale(1.0,1)" font-size="8.2" text-anchor="middle" fill="#000" stroke="#000" class="tk">−1</text>
<text transform="translate(339.5,294.1) scale(1.0,1)" font-size="8.2" text-anchor="middle" fill="#000" stroke="#000" class="tk">0</text>
<path d="M221.6,188.5 L223.2,189.03 L224.8,191.11 L226.4,192.14 L228.33,191.56 L230.27,190.79 L232.2,191.53 L234.1,191.2 L236,190.32 L237.9,189.96 L239.8,189.12 L241.73,189.18 L243.65,190.32 L245.57,191.18 L247.5,190.72 L248.95,193.1 L250.4,193.17 L251.85,194.24 L253.3,194.98 L254.15,198.3 L255,199.43 L255.63,201.16 L256.27,202.18 L256.9,202.61 L257.53,204.63 L258.17,206.41 L258.8,207.21 L259.45,210.61 L260.1,211.46 L260.75,212.98 L261.24,215.95 L261.73,216.47 L262.21,219.7 L262.7,220.62 L263.08,222.65 L263.46,224.14 L263.84,226.25 L264.22,227.58 L264.6,229.17 L265.13,232.34 L265.67,232.89 L266.2,235.55 L266.73,236.21 L267.27,239.26 L267.8,240.81 L268.93,242.06 L270.07,243.57 L271.2,244.75 L273.4,244.46 L275.6,242.82 L277.45,243.63 L279.3,244.44 L281.15,243.49 L283,244.96 L285,246.3 L286.87,245.07 L288.73,244.62 L290.6,244.41 L292.47,244.66 L294.33,246.12 L296.2,245.4 L297.85,243.9 L299.5,243.17 L301.75,244.04 L304,244.29 L306.25,243.94 L308.5,244.48 L309.6,243.09 L310.7,241.95 L311.8,239.5 L314.05,239.4 L316.3,238.5 L318.55,238.32 L320.8,237.23 L322.45,236.66 L324.1,236.43 L325.23,238.94 L326.37,239.36 L327.5,241.28 L329.15,239.95 L330.8,238.79 L332.5,237.87 L334.2,238.36 L335.85,237.2 L337.5,235.37 L339.5,234" fill="none" stroke="#108a10" stroke-width="1.5" stroke-linejoin="round" stroke-linecap="round" />
<path d="M249.9,255.8 C250.27,254.3 251.15,251.1 252.1,246.8 C253.05,242.5 254.58,234.35 255.6,230 C256.62,225.65 257.34,223.43 258.2,220.7 C259.06,217.97 259.58,216.38 260.75,213.6 C261.92,210.82 263.39,206.87 265.2,204 C267.01,201.13 269.47,198.42 271.6,196.4 C273.73,194.38 275.28,193.63 278,191.9 C280.72,190.17 283.63,187.53 287.9,186 C292.17,184.47 298,183.63 303.6,182.7 C309.2,181.77 315.43,181.08 321.5,180.4 C327.57,179.72 336.92,178.9 340,178.6" fill="none" stroke="#108a10" stroke-width="1.5" stroke-linejoin="round" stroke-linecap="round" />
<path d="M221.6,182 L223.62,182.55 L225.64,182.46 L227.66,182.72 L229.68,183.53 L231.7,183.44 L233.72,183.73 L235.74,184.32 L237.76,184.48 L239.78,185.07 L241.8,185.07 L243.71,186.12 L245.63,186.48 L247.54,187.31 L249.46,188.16 L251.37,188.72 L253.29,189.53 L255.2,190.1 L257.65,190.72 L260.1,192.09 L261.05,193.72 L262,195.36 L262.95,197.07 L263.9,199.17 L264.97,201.14 L266.03,203.42 L267.1,205.44 L270.3,207.53 L270.95,209.41 L271.6,211.55 L272.25,213.58 L272.9,215.48 L273.85,218.55 L274.8,221.05 L276.38,228.6 L276.66,231.28 L276.94,232.95 L277.22,233.74 L277.5,236.59 L277.71,237.93 L277.93,238.7 L278.14,241.87 L278.36,242.47 L278.57,244.26 L278.79,246.16 L279,248.14 L281,248.4 L283,250.3 L285,251.73 L286.87,251.79 L288.73,252.8 L290.6,253.1 L292.85,253.97 L295.1,253.49 L296.57,253.04 L298.03,252.48 L299.5,251.17 L300.9,251.71 L302.3,250.32 L303.7,248.61 L305.1,248.53 L306.23,249.81 L307.35,251 L308.48,252.51 L309.6,254.54 L311.85,254.16 L314.1,255.2 L316.3,254.87 L318.5,254 L320.75,256 L323,255.46 L324.7,255.43 L326.4,256.21 L327.87,256.35 L329.33,257.78 L330.8,259.1 L332.3,260.4 L333.8,261.99 L335.3,263.51 L336.8,264.21 L338.3,264.26 L339.8,265.7" fill="none" stroke="#ff8c00" stroke-width="1.5" stroke-linejoin="round" stroke-linecap="round" />
<path d="M261.1,282.6 C262.03,277.77 264.95,262.37 266.7,253.6 C268.45,244.83 270.25,235.43 271.6,230 C272.95,224.57 273.73,223.67 274.8,221.05 C275.87,218.43 276.62,216.71 278,214.3 C279.38,211.89 281.18,208.73 283.1,206.6 C285.02,204.47 287.52,202.77 289.5,201.5 C291.48,200.23 291.53,200.28 295,199 C298.47,197.72 305.15,195.22 310.3,193.8 C315.45,192.38 320.95,191.32 325.9,190.5 C330.85,189.68 337.65,189.17 340,188.9" fill="none" stroke="#ff8c00" stroke-width="1.5" stroke-linejoin="round" stroke-linecap="round" />
<path d="M221.6,177.5 C224.97,177.83 235.25,178.7 241.8,179.5 C248.35,180.3 256.43,181.35 260.9,182.3 C265.37,183.25 266.67,184.25 268.6,185.2 C270.53,186.15 271.47,187.2 272.5,188 C273.53,188.8 273.67,188.38 274.8,190 C275.93,191.62 278.55,196.42 279.3,197.7" fill="none" stroke="#ff0000" stroke-width="1.4" stroke-linejoin="round" stroke-linecap="round" />
<path d="M279.3,197.7 L279.66,200.11 L280.01,201.79 L280.37,203.33 L280.73,203.52 L281.09,206.08 L281.44,207.42 L281.8,209.25 L282.23,210.23 L282.67,212.05 L283.1,214.2 L283.53,215.5 L283.97,217.62 L284.4,218.54 L284.83,220.42 L285.27,223.31 L285.7,224.56 L286.13,226.49 L286.57,228.65 L287,229.75 L287.32,230.87 L287.63,233.84 L287.95,235.16 L288.27,236.95 L288.58,238.55 L288.9,240.85 L290.3,241.45 L291.7,243.87 L292.83,244.46 L293.97,246.13 L295.1,247.59 L296.57,247.9 L298.03,248.42 L299.5,250.05 L301,251.79 L302.5,252.86 L304,253.91 L305.5,254.82 L307,254.56 L308.5,255.12 L310.37,255.55 L312.23,256.6 L314.1,255.65 L315.57,256.27 L317.03,257.01 L318.5,257.67 L320,258.66 L321.5,259.76 L323,260.78 L325.25,260.7 L327.5,261.57 L329.75,261.72 L332,262.05 L333.47,263.63 L334.93,263.95 L336.4,264.17 L337.8,264.74 L339.2,266.3" fill="none" stroke="#ff0000" stroke-width="1.5" stroke-linejoin="round" stroke-linecap="round" />
<path d="M275.6,283.2 L276.15,281.82 L276.7,280.37 L277.25,278.3 L277.8,277.4 L278.35,275.21 L278.9,274.04 L279.45,272.02 L280,271.01 L280.32,269 L280.63,267.93 L280.95,266.43 L281.27,264.95 L281.58,263.17 L281.9,261.99 L282.22,260.57 L282.53,258.36 L282.85,257.16 L283.17,256 L283.48,254.31 L283.8,252.56 L284.38,251.05 L284.96,250.18 L285.53,248.1 L286.11,247.25 L286.69,245.93 L287.27,243.99 L287.84,242.74 L288.42,241.33 L289,240.13 L290.05,238.91 L291.1,238.25 L292.15,237.19 L293.2,235.62 L294.25,235 L295.3,233.26 L296.8,232.74 L298.3,232.67 L299.8,232.24 L301.3,231.72 L302.8,231.33 L304.3,230.69 L305.8,229.68 L307.3,229.53 L308.8,229.14 L310.23,227.9 L311.67,227.65 L313.1,226.8 L314.53,226.21 L315.97,225.91 L317.4,225.49 L318.83,225.15 L320.27,223.91 L321.7,223.63 L323.13,223.45 L324.57,222.69 L326,221.93 L327.56,221.32 L329.11,221.25 L330.67,220.58 L332.22,220.5 L333.78,220.13 L335.33,219.55 L336.89,219.49 L338.44,218.8 L340,218.5" fill="none" stroke="#ff0000" stroke-width="1.4" stroke-linejoin="round" stroke-linecap="round" />
<ellipse cx="260.75" cy="213.6" rx="2.1" ry="2.3" fill="#000"/>
<ellipse cx="274.8" cy="221.05" rx="2.1" ry="2.3" fill="#000"/>
<ellipse cx="289" cy="240.1" rx="2.1" ry="2.3" fill="#000"/>
<rect x="213.2" y="167.5" width="126.4" height="115.5" fill="none" stroke="#000" stroke-width="1.7"/>
<text x="177.3" y="173.5" font-size="11.7" text-anchor="start" fill="#000" stroke="#000"  class="ns">(d)</text>
<text transform="translate(220.5,207.3) scale(1,1.08)" font-size="9.0" text-anchor="start" fill="#000" stroke="#000"  >Gr/CNT</text>
<text stroke="#000" transform="translate(223.5,270.3) scale(1,1.08)" font-size="9.0">Gr/MoS<tspan font-size="5.3" dy="2.6">2</tspan></text>
<text stroke="#108a10" transform="translate(286.6,178.2) scale(1,1.08)" font-size="9.1" fill="#108a10"><tspan font-style="italic">V</tspan><tspan font-size="5.3" dy="3">BG</tspan><tspan dy="-3"> = −5 V</tspan></text>
<text transform="translate(337.4,201.7) scale(1,1.08)" font-size="9.3" text-anchor="end" fill="#ff8c00" stroke="#ff8c00"  >−15 V</text>
<text transform="translate(322.8,222.9) scale(1,1.08)" font-size="9.3" text-anchor="end" fill="#ff0000" stroke="#ff0000"  >−30 V</text>
<text stroke="#000" transform="translate(276.4,305.7) scale(1,1.08)" font-size="9.3" text-anchor="middle"><tspan font-style="italic">V</tspan><tspan font-size="5.6" dy="3">TG</tspan><tspan dy="-3"> (V)</tspan></text>
<line x1="398.9" y1="272.7" x2="403.1" y2="272.7" stroke="#000" stroke-width="1.6" />
<text transform="translate(396.4,275.7) scale(1.0,1)" font-size="8.2" text-anchor="end" fill="#000" stroke="#000" class="tk">400</text>
<line x1="398.9" y1="256.85" x2="401.7" y2="256.85" stroke="#000" stroke-width="1.6" />
<line x1="398.9" y1="241" x2="403.1" y2="241" stroke="#000" stroke-width="1.6" />
<text transform="translate(396.4,244) scale(1.0,1)" font-size="8.2" text-anchor="end" fill="#000" stroke="#000" class="tk">700</text>
<line x1="398.9" y1="225.15" x2="401.7" y2="225.15" stroke="#000" stroke-width="1.6" />
<line x1="398.9" y1="209.3" x2="403.1" y2="209.3" stroke="#000" stroke-width="1.6" />
<text transform="translate(396.4,212.3) scale(1.0,1)" font-size="8.2" text-anchor="end" fill="#000" stroke="#000" class="tk">1000</text>
<line x1="398.9" y1="193.45" x2="401.7" y2="193.45" stroke="#000" stroke-width="1.6" />
<line x1="398.9" y1="177.6" x2="403.1" y2="177.6" stroke="#000" stroke-width="1.6" />
<text transform="translate(396.4,180.6) scale(1.0,1)" font-size="8.2" text-anchor="end" fill="#000" stroke="#000" class="tk">1300</text>
<line x1="525.9" y1="273.6" x2="521.7" y2="273.6" stroke="#000" stroke-width="1.6" />
<text transform="translate(529.8,276.6) scale(1.0,1)" font-size="8.2" text-anchor="start" fill="#000" stroke="#000" class="tk">0</text>
<line x1="525.9" y1="263.89" x2="523.1" y2="263.89" stroke="#000" stroke-width="1.6" />
<line x1="525.9" y1="254.18" x2="521.7" y2="254.18" stroke="#000" stroke-width="1.6" />
<text transform="translate(529.8,257.18) scale(1.0,1)" font-size="8.2" text-anchor="start" fill="#000" stroke="#000" class="tk">1</text>
<line x1="525.9" y1="244.47" x2="523.1" y2="244.47" stroke="#000" stroke-width="1.6" />
<line x1="525.9" y1="234.76" x2="521.7" y2="234.76" stroke="#000" stroke-width="1.6" />
<text transform="translate(529.8,237.76) scale(1.0,1)" font-size="8.2" text-anchor="start" fill="#000" stroke="#000" class="tk">2</text>
<line x1="525.9" y1="225.05" x2="523.1" y2="225.05" stroke="#000" stroke-width="1.6" />
<line x1="525.9" y1="215.34" x2="521.7" y2="215.34" stroke="#000" stroke-width="1.6" />
<text transform="translate(529.8,218.34) scale(1.0,1)" font-size="8.2" text-anchor="start" fill="#000" stroke="#000" class="tk">3</text>
<line x1="525.9" y1="205.63" x2="523.1" y2="205.63" stroke="#000" stroke-width="1.6" />
<line x1="525.9" y1="195.92" x2="521.7" y2="195.92" stroke="#000" stroke-width="1.6" />
<text transform="translate(529.8,198.92) scale(1.0,1)" font-size="8.2" text-anchor="start" fill="#000" stroke="#000" class="tk">4</text>
<line x1="525.9" y1="186.21" x2="523.1" y2="186.21" stroke="#000" stroke-width="1.6" />
<line x1="525.9" y1="176.5" x2="521.7" y2="176.5" stroke="#000" stroke-width="1.6" />
<text transform="translate(529.8,179.5) scale(1.0,1)" font-size="8.2" text-anchor="start" fill="#000" stroke="#000" class="tk">5</text>
<line x1="411.51" y1="283" x2="411.51" y2="279.6" stroke="#000" stroke-width="1.6" />
<text transform="translate(411.51,294.6) scale(1.0,1)" font-size="8.2" text-anchor="middle" fill="#000" stroke="#000" class="tk">−30</text>
<line x1="424.18" y1="283" x2="424.18" y2="280.7" stroke="#000" stroke-width="1.6" />
<line x1="436.84" y1="283" x2="436.84" y2="279.6" stroke="#000" stroke-width="1.6" />
<text transform="translate(436.84,294.6) scale(1.0,1)" font-size="8.2" text-anchor="middle" fill="#000" stroke="#000" class="tk">−20</text>
<line x1="449.5" y1="283" x2="449.5" y2="280.7" stroke="#000" stroke-width="1.6" />
<line x1="462.17" y1="283" x2="462.17" y2="279.6" stroke="#000" stroke-width="1.6" />
<text transform="translate(462.17,294.6) scale(1.0,1)" font-size="8.2" text-anchor="middle" fill="#000" stroke="#000" class="tk">−10</text>
<line x1="474.83" y1="283" x2="474.83" y2="280.7" stroke="#000" stroke-width="1.6" />
<line x1="487.5" y1="283" x2="487.5" y2="279.6" stroke="#000" stroke-width="1.6" />
<text transform="translate(487.5,294.6) scale(1.0,1)" font-size="8.2" text-anchor="middle" fill="#000" stroke="#000" class="tk">0</text>
<line x1="500.17" y1="283" x2="500.17" y2="280.7" stroke="#000" stroke-width="1.6" />
<line x1="512.83" y1="283" x2="512.83" y2="279.6" stroke="#000" stroke-width="1.6" />
<text transform="translate(512.83,294.6) scale(1.0,1)" font-size="8.2" text-anchor="middle" fill="#000" stroke="#000" class="tk">10</text>
<path d="M411.5,267.9 L449.3,246 L474.8,219.2 L487.5,204.7 L512.8,183" fill="none" stroke="#000" stroke-width="1.3" stroke-linejoin="round" stroke-linecap="round" />
<path d="M411.5,178.4 L449.3,223 L474.8,254.7 L487.5,263.1 L512.8,274.9" fill="none" stroke="#ff0000" stroke-width="1.3" stroke-linejoin="round" stroke-linecap="round" />
<rect x="409.15" y="265.35" width="4.7" height="5.1" fill="#000"/>
<rect x="446.95" y="243.45" width="4.7" height="5.1" fill="#000"/>
<rect x="472.45" y="216.65" width="4.7" height="5.1" fill="#000"/>
<rect x="485.15" y="202.15" width="4.7" height="5.1" fill="#000"/>
<rect x="510.45" y="180.45" width="4.7" height="5.1" fill="#000"/>
<ellipse cx="411.5" cy="178.4" rx="2.75" ry="3.05" fill="#ff0000"/>
<ellipse cx="449.3" cy="223.0" rx="2.75" ry="3.05" fill="#ff0000"/>
<ellipse cx="474.8" cy="254.7" rx="2.75" ry="3.05" fill="#ff0000"/>
<ellipse cx="487.5" cy="263.1" rx="2.75" ry="3.05" fill="#ff0000"/>
<ellipse cx="512.8" cy="274.9" rx="2.75" ry="3.05" fill="#ff0000"/>
<line x1="414.6" y1="215.5" x2="427.3" y2="215.5" stroke="#ff0000" stroke-width="1.7" stroke-dasharray="1.3 1.4"/>
<path d="M407.3,215.5 L414.0,212.6 L414.0,218.4 Z" fill="#ff0000"/>
<text transform="translate(405,228.2) scale(1,1.08)" font-size="9.2" text-anchor="start" fill="#ff0000" stroke="#ff0000"  >Gr/CNT</text>
<line x1="487.8" y1="224.6" x2="500.2" y2="224.6" stroke="#000" stroke-width="1.7" stroke-dasharray="1.3 1.4"/>
<path d="M506.9,224.6 L500.2,221.9 L500.2,227.3 Z" fill="#000"/>
<text stroke="#000" transform="translate(479.2,237.5) scale(1,1.08)" font-size="9.2">Gr/MoS<tspan font-size="5.4" dy="2.8">2</tspan></text>
<rect x="398.9" y="166.7" width="127" height="116.3" fill="none" stroke="#000" stroke-width="1.7"/>
<text x="358.8" y="173.7" font-size="11.7" text-anchor="start" fill="#000" stroke="#000"  class="ns">(e)</text>
<text stroke="#000" transform="translate(462.2,306.8) scale(1,1.08)" font-size="9.3" text-anchor="middle"><tspan font-style="italic">V</tspan><tspan font-size="5.6" dy="3">BG</tspan><tspan dy="-3"> (V)</tspan></text>
<text stroke="#000" transform="translate(375.2,222.6) rotate(-90)" font-size="10.1" text-anchor="middle"><tspan font-weight="normal">μ</tspan> (cm<tspan font-size="5.8" dy="-3.9">2</tspan><tspan dy="3.9">/Vs)</tspan></text>
<text stroke="#000" transform="translate(545.6,224.7) rotate(-90)" font-size="10.1" text-anchor="middle"><tspan font-weight="normal">μ</tspan> (cm<tspan font-size="5.8" dy="-3.9">2</tspan><tspan dy="3.9">/Vs)</tspan></text>
</svg>
</body></html>
